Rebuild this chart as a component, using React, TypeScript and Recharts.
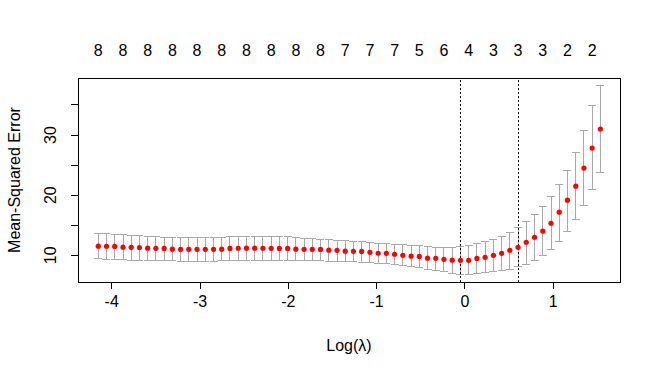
import React from "react";
import {
  ComposedChart,
  Scatter,
  XAxis,
  YAxis,
  ErrorBar,
  ReferenceLine,
  ReferenceArea,
} from "recharts";

// log(lambda) path, left to right
const logLambda = [
  -4.152, -4.059, -3.966, -3.872, -3.779, -3.686, -3.593, -3.5, -3.406, -3.313,
  -3.22, -3.127, -3.034, -2.94, -2.847, -2.754, -2.661, -2.568, -2.474, -2.381,
  -2.288, -2.195, -2.102, -2.008, -1.915, -1.822, -1.729, -1.636, -1.542, -1.449,
  -1.356, -1.263, -1.17, -1.076, -0.983, -0.89, -0.797, -0.704, -0.61, -0.517,
  -0.424, -0.331, -0.238, -0.144, -0.051, 0.042, 0.135, 0.228, 0.322, 0.415,
  0.508, 0.601, 0.694, 0.788, 0.881, 0.974, 1.067, 1.16, 1.254, 1.347,
  1.44, 1.533,
];

// cross-validated mean squared error
const cvm = [
  11.52, 11.5, 11.47, 11.35, 11.33, 11.3, 11.18, 11.16, 11.14, 11.02,
  11.0, 11.0, 10.99, 11.0, 11.0, 11.02, 11.15, 11.17, 11.18, 11.18,
  11.17, 11.16, 11.15, 11.14, 11.02, 11.0, 10.99, 10.98, 10.85, 10.82,
  10.68, 10.66, 10.64, 10.5, 10.34, 10.31, 10.17, 10.01, 9.85, 9.82,
  9.52, 9.49, 9.33, 9.19, 9.17, 9.17, 9.48, 9.66, 10.0, 10.33,
  10.83, 11.33, 12.17, 13.0, 14.02, 15.33, 17.17, 19.17, 21.5, 24.5,
  27.83, 31.0,
];

// upper / lower one standard error
const cvup = [
  13.67, 13.65, 13.5, 13.48, 13.35, 13.33, 13.19, 13.17, 13.02, 13.0,
  13.0, 12.99, 12.99, 13.0, 13.0, 13.01, 13.12, 13.15, 13.17, 13.16,
  13.15, 13.14, 13.12, 13.1, 13.0, 12.85, 12.84, 12.68, 12.67, 12.52,
  12.5, 12.34, 12.33, 12.17, 12.02, 12.0, 11.84, 11.82, 11.68, 11.66,
  11.5, 11.35, 11.33, 11.33, 11.5, 11.67, 12.0, 12.33, 12.67, 13.17,
  13.83, 14.67, 15.67, 16.83, 18.17, 19.83, 21.83, 24.17, 27.17, 30.67,
  34.83, 38.17,
];

const cvlo = [
  9.5, 9.35, 9.33, 9.32, 9.19, 9.17, 9.17, 9.16, 9.15, 9.14,
  9.02, 9.0, 9.0, 9.0, 9.0, 9.15, 9.17, 9.18, 9.18, 9.19,
  9.19, 9.18, 9.17, 9.17, 9.16, 9.15, 9.14, 9.13, 9.02, 9.0,
  9.0, 8.98, 8.83, 8.83, 8.67, 8.65, 8.5, 8.33, 8.17, 8.0,
  7.67, 7.5, 7.33, 7.0, 6.83, 6.83, 7.0, 7.17, 7.33, 7.5,
  7.67, 8.17, 8.5, 9.17, 10.0, 11.0, 12.33, 14.0, 16.0, 18.33,
  21.0, 23.83,
];

// number of nonzero coefficients, labelled at every third lambda
const nzero = [8, 8, 8, 8, 8, 8, 8, 8, 8, 8, 7, 7, 7, 5, 6, 4, 3, 3, 3, 2, 2];

const xTicks = [-4, -3, -2, -1, 0, 1];
const yTicks = [10, 15, 20, 25, 30, 35];
const yLabelled = [10, 20, 30];

const lambdaMinIdx = 44;
const lambda1seIdx = 51;

const xDomain: [number, number] = [-4.3816, 1.7552];
const yDomain: [number, number] = [5.56, 39.48];

const data = logLambda.map((x, i) => ({
  x,
  y: cvm[i],
  err: [cvm[i] - cvlo[i], cvup[i] - cvm[i]],
}));

const topTicks = logLambda.filter((_, i) => i % 3 === 0);

const FONT = "'Liberation Sans', Arial, sans-serif";

const BottomTick = (props: any) => {
  const { x, y, payload } = props;
  return (
    <text x={x} y={y} dy={18} textAnchor="middle" fontFamily={FONT} fontSize={16} fill="#000">
      {payload.value}
    </text>
  );
};

const TopTick = (props: any) => {
  const { x, y, payload } = props;
  const k = topTicks.indexOf(payload.value);
  return (
    <text x={x} y={y} dy={-22.5} textAnchor="middle" fontFamily={FONT} fontSize={16} fill="#000">
      {k >= 0 ? nzero[k] : ""}
    </text>
  );
};

const LeftTick = (props: any) => {
  const { x, y, payload } = props;
  if (!yLabelled.includes(payload.value)) return <g />;
  const bx = x - 15;
  return (
    <text
      x={bx}
      y={y}
      textAnchor="middle"
      transform={`rotate(-90, ${bx}, ${y})`}
      fontFamily={FONT}
      fontSize={16}
      fill="#000"
    >
      {payload.value}
    </text>
  );
};

const Dot = (props: any) => {
  const { cx, cy } = props;
  return <circle cx={cx} cy={cy} r={2.6} fill="#ff0000" />;
};

const NoShape = () => <g />;

export default function App() {
  return (
    <div style={{ position: "absolute", left: 0, top: 0, background: "#fff" }}>
      <ComposedChart
        width={661}
        height={380}
        margin={{ top: 48, right: 41, bottom: 68, left: 38 }}
      >
        <XAxis
          xAxisId={0}
          dataKey="x"
          type="number"
          domain={xDomain}
          allowDataOverflow
          ticks={xTicks}
          interval={0}
          height={30}
          axisLine={false}
          tickLine={{ stroke: "#000", shapeRendering: "crispEdges" }}
          tickSize={7}
          tickMargin={0}
          tick={<BottomTick />}
          label={{
            content: (p: any) => {
              const vb = p.viewBox || {};
              return (
                <text
                  x={vb.x + vb.width / 2}
                  y={vb.y + 69}
                  textAnchor="middle"
                  fontFamily={FONT}
                  fontSize={16}
                  fill="#000"
                >
                  Log(λ)
                </text>
              );
            },
          }}
        />
        <XAxis
          xAxisId="top"
          orientation="top"
          dataKey="x"
          type="number"
          domain={xDomain}
          allowDataOverflow
          ticks={topTicks}
          interval={0}
          height={30}
          axisLine={false}
          tickLine={false}
          tickSize={0}
          tickMargin={0}
          tick={<TopTick />}
        />
        <YAxis
          type="number"
          domain={yDomain}
          allowDataOverflow
          ticks={yTicks}
          interval={0}
          width={40}
          axisLine={false}
          tickLine={{ stroke: "#000", shapeRendering: "crispEdges" }}
          tickSize={7}
          tickMargin={0}
          tick={<LeftTick />}
          label={{
            content: (p: any) => {
              const vb = p.viewBox || {};
              const lx = vb.x - 18.5;
              const ly = vb.y + vb.height / 2;
              return (
                <text
                  x={lx}
                  y={ly}
                  textAnchor="middle"
                  transform={`rotate(-90, ${lx}, ${ly})`}
                  fontFamily={FONT}
                  fontSize={16}
                  fill="#000"
                >
                  Mean-Squared Error
                </text>
              );
            },
          }}
        />
        <ReferenceArea
          x1={xDomain[0]}
          x2={xDomain[1]}
          y1={yDomain[0]}
          y2={yDomain[1]}
          fill="none"
          stroke="#000"
          strokeWidth={1}
          shapeRendering="crispEdges"
          ifOverflow="visible"
        />
        <Scatter data={data} dataKey="y" shape={<NoShape />} isAnimationActive={false}>
          <ErrorBar
            dataKey="err"
            direction="y"
            width={4}
            stroke="#a9a9a9"
            strokeWidth={1}
            shapeRendering="crispEdges"
            isAnimationActive={false}
          />
        </Scatter>
        <ReferenceLine
          x={logLambda[lambdaMinIdx]}
          stroke="#000"
          strokeDasharray="2 2"
          strokeWidth={1}
          shapeRendering="crispEdges"
        />
        <ReferenceLine
          x={logLambda[lambda1seIdx]}
          stroke="#000"
          strokeDasharray="2 2"
          strokeWidth={1}
          shapeRendering="crispEdges"
        />
        <Scatter data={data} dataKey="y" shape={<Dot />} isAnimationActive={false} />
      </ComposedChart>
    </div>
  );
}
